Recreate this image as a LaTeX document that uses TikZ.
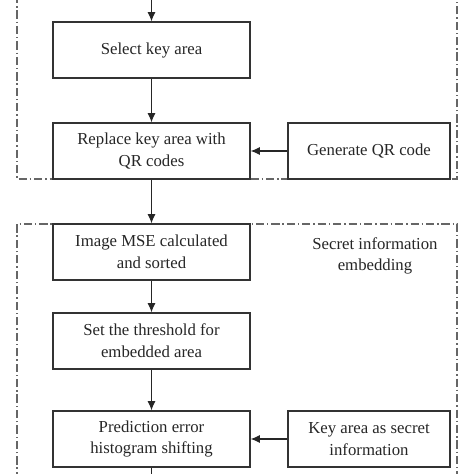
\documentclass[tikz,border=0pt]{standalone}
\usepackage{fontspec}
\setmainfont{Liberation Serif}
\usepackage{tikz}
\usetikzlibrary{arrows.meta}

\begin{document}
\begin{tikzpicture}[x=0.03cm, y=-0.03cm,
    box/.style={draw=black!80, line width=1pt, minimum width=5.91cm, minimum height=1.68cm,
        align=center, inner sep=0pt, font=\fontsize{14.3}{18.5}\selectfont, text=black!85},
    sidebox/.style={box, minimum width=4.86cm},
    arr/.style={draw=black!85, line width=1pt, -{Latex[length=8pt, width=7pt]}},
    frame/.style={draw=black!60, line width=0.9pt, dash pattern=on 7pt off 2.5pt on 1.2pt off 2.5pt}]
    \useasboundingbox (0,0) rectangle (474,474);

    \coordinate (in) at (151.5, -5);
    \coordinate (out) at (151.5, 480);

    % dash-dot frames
    \draw[frame] (17,-5) -- (17,179) -- (457,179) -- (457,-5);
    \draw[frame] (17,480) -- (17,224) -- (457,224) -- (457,480);

    \node[box] (sel) at (151.5, 50) {Select key area};
    \node[box] (rep) at (151.5, 151) {Replace key area with\\QR codes};
    \node[sidebox] (gen) at (369, 151) {Generate QR code};
    \node[box] (mse) at (151.5, 252) {Image MSE calculated\\and sorted};
    \node[box] (thr) at (151.5, 341) {Set the threshold for\\embedded area};
    \node[box] (peh) at (151.5, 439) {Prediction error\\histogram shifting};
    \node[sidebox] (key) at (369, 439) {Key area as secret\\information};

    \node[align=center, font=\fontsize{14.3}{18.5}\selectfont, text=black!85] (lab) at (375, 256)
        {Secret information\\embedding};

    \draw[arr] (in) -- (sel);
    \draw[arr] (sel) -- (rep);
    \draw[arr] (gen) -- (rep);
    \draw[arr] (rep) -- (mse);
    \draw[arr] (mse) -- (thr);
    \draw[arr] (thr) -- (peh);
    \draw[arr] (key) -- (peh);
    \draw[draw=black!85, line width=1pt] (peh) -- (out);
\end{tikzpicture}
\end{document}
